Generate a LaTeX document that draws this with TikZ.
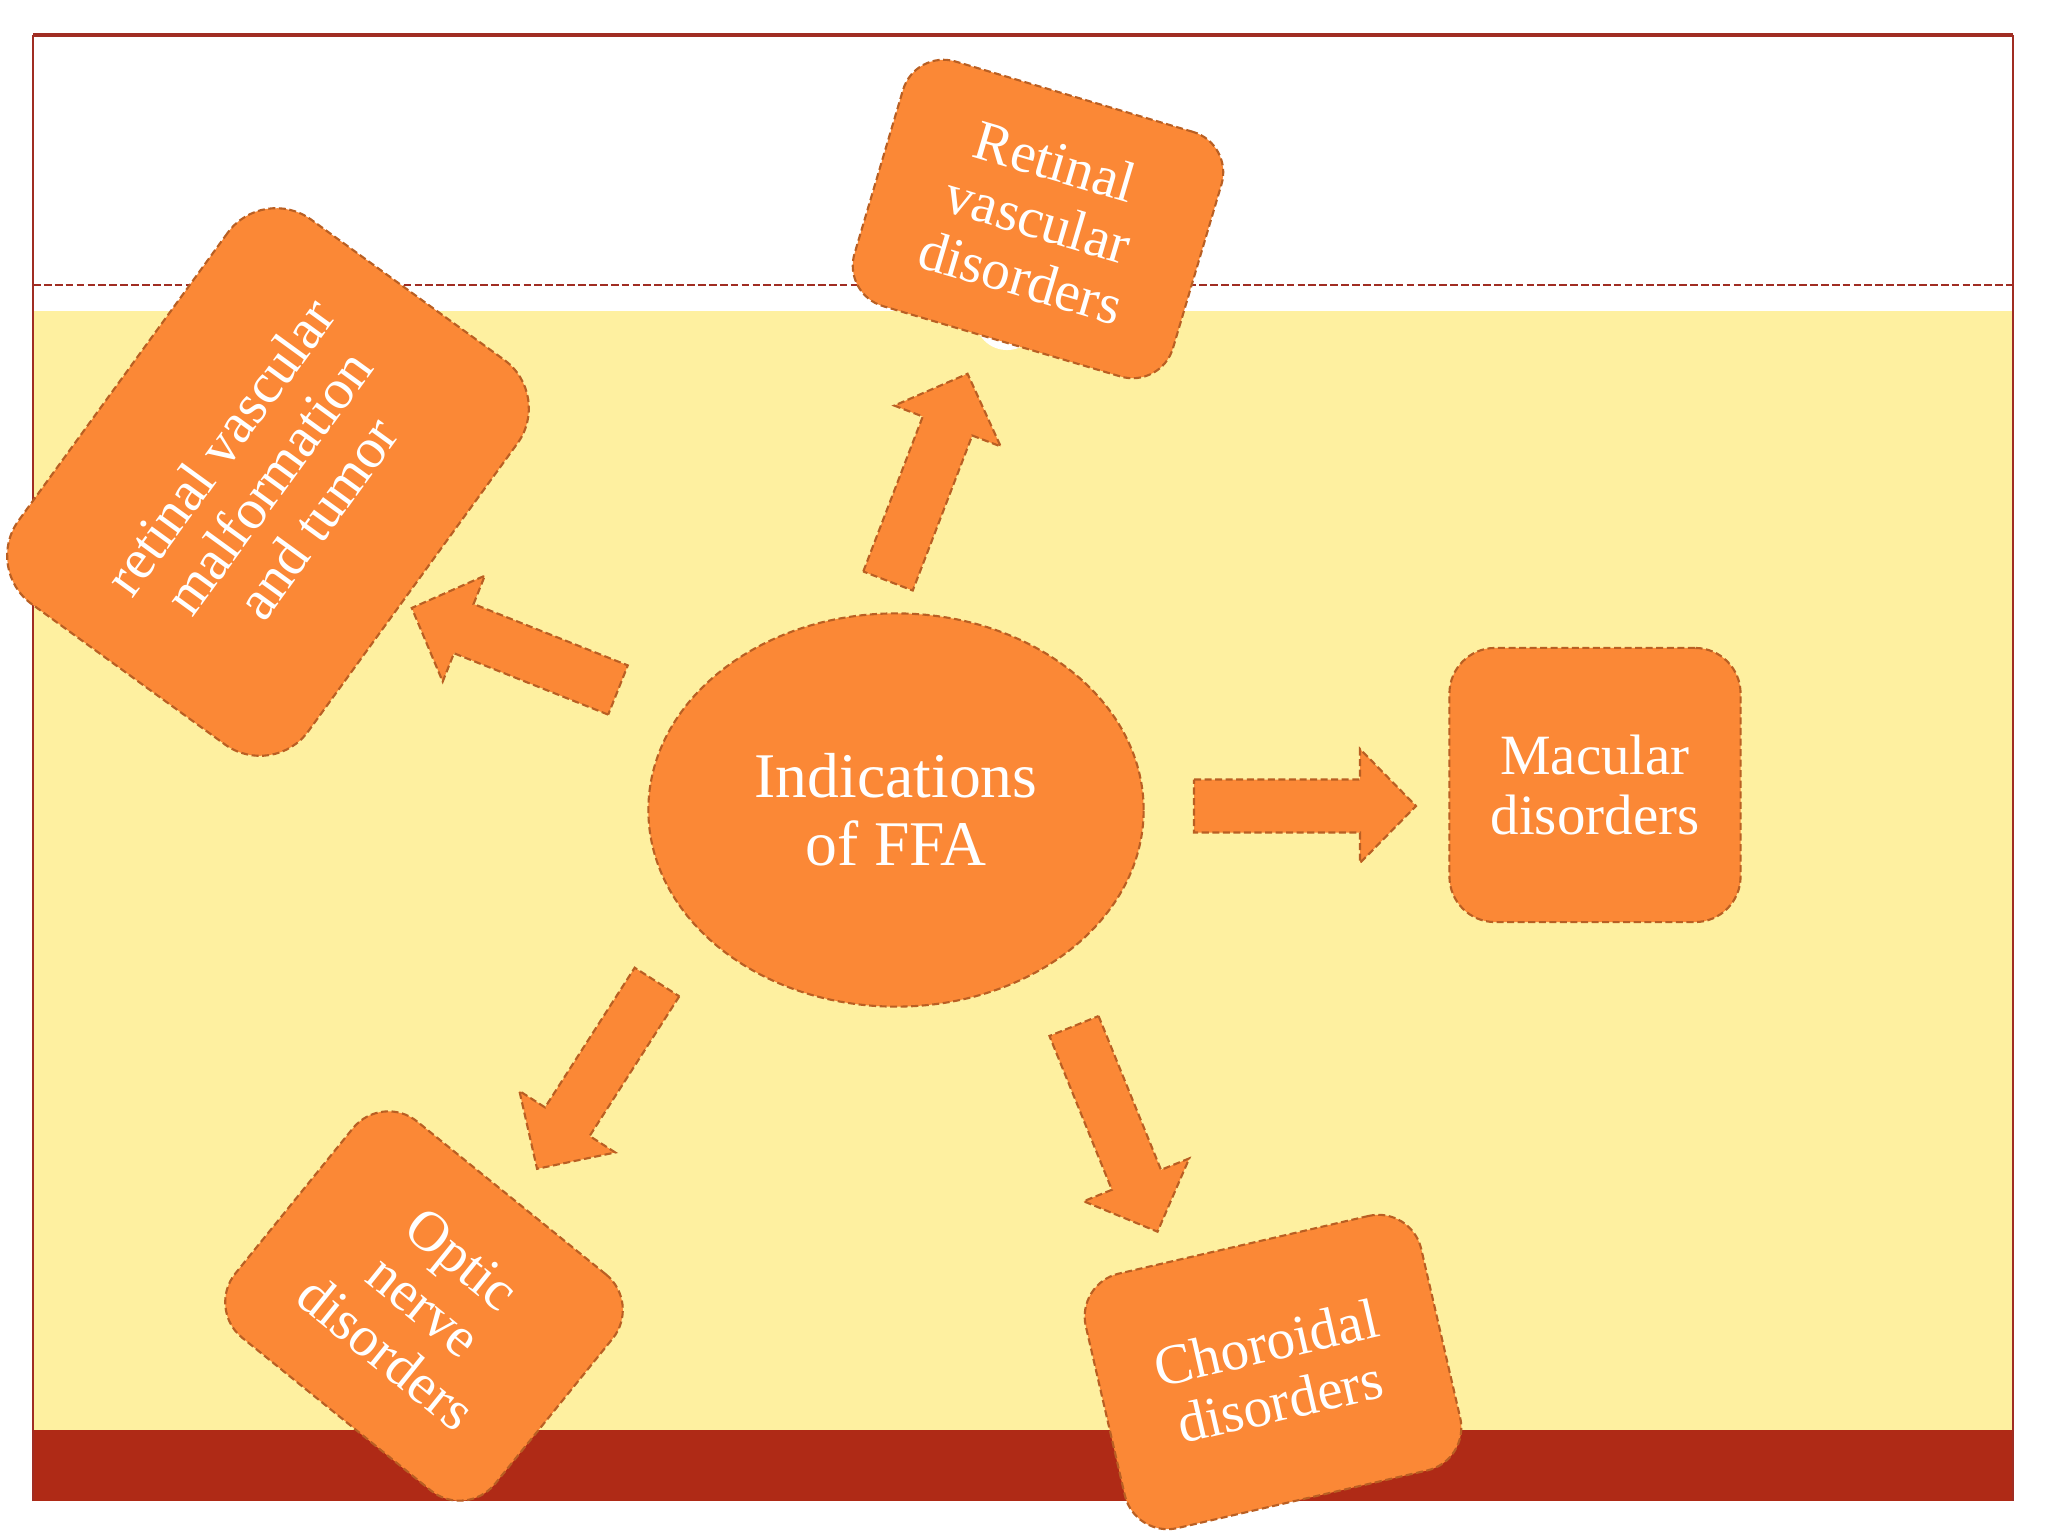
\documentclass[tikz,border=0pt]{standalone}
\usepackage{fontspec}
\setmainfont{Liberation Serif}
\usetikzlibrary{shapes.geometric}
\definecolor{boxorange}{RGB}{251,136,54}
\definecolor{dashbrown}{RGB}{185,95,35}
\definecolor{bgyellow}{RGB}{254,240,160}
\definecolor{bandred}{RGB}{175,42,22}
\definecolor{framered}{RGB}{160,45,35}
\begin{document}
\begin{tikzpicture}[x=0.01cm,y=-0.01cm,
  shapeline/.style={draw=dashbrown, line width=0.6pt, dash pattern=on 2pt off 1pt},
  orangebox/.style={shapeline, fill=boxorange, rectangle, text=white, align=center,
    inner sep=0pt, font=\fontsize{16.2}{17.2}\selectfont},
  blockarrow/.pic={\path[shapeline, fill=boxorange] (0,-26.5) -- (166,-26.5) -- (166,-57)
    -- (222,0) -- (166,57) -- (166,26.5) -- (0,26.5) -- cycle;}
]
\useasboundingbox (0,0) rectangle (2048,1536);
\fill[white] (0,0) rectangle (2048,1536);
% slide background
\fill[bgyellow] (33,311) rectangle (2013,1430);
\fill[bandred] (33,1430) rectangle (2013,1501);
\draw[framered, line width=0.6pt, dash pattern=on 2.2pt off 0.9pt] (33,285) -- (2013,285);
\draw[framered, line width=0.6pt] (33,1501) -- (33,35);
\draw[framered, line width=0.6pt] (2013,35) -- (2013,1501);
\draw[framered, line width=0.9pt] (33,35) -- (2013,35);
% white blob behind top box
\fill[white] (1007,318) ellipse [x radius=0.32cm, y radius=0.32cm];
% block arrows
\coordinate (tailUp) at (888,581);
\coordinate (tailLeft) at (618,690);
\coordinate (tailDL) at (657,982);
\coordinate (tailDR) at (1074,1026);
\coordinate (tailRight) at (1194,806);
\pic[rotate=69] at (tailUp) {blockarrow};
\pic[rotate=158.3] at (tailLeft) {blockarrow};
\pic[rotate=-122.7] at (tailDL) {blockarrow};
\pic[rotate=-67.9] at (tailDR) {blockarrow};
\pic at (tailRight) {blockarrow};
% nodes
\node[ellipse, shapeline, fill=boxorange, minimum width=4.95cm, minimum height=3.93cm,
  inner sep=0pt, text=white, align=center, font=\fontsize{18.1}{19.4}\selectfont]
  (center) at (896,810) {Indications\\of FFA};
\node[orangebox, minimum width=2.91cm, minimum height=2.74cm, rounded corners=13pt]
  (macular) at (1595,785) {Macular\\disorders};
\node[orangebox, rotate=-16.5, minimum width=3.32cm, minimum height=2.55cm, rounded corners=12pt]
  (retvasc) at (1038,219) {Retinal\\vascular\\disorders};
\node[orangebox, rotate=54, minimum width=4.75cm, minimum height=3.58cm, rounded corners=17pt]
  (malform) at (268,482) {retinal vascular\\malformation\\and tumor};
\node[orangebox, rotate=-39, minimum width=3.34cm, minimum height=2.78cm, rounded corners=13pt]
  (optic) at (424,1306) {Optic\\nerve\\disorders};
\node[orangebox, rotate=13, minimum width=3.44cm, minimum height=2.61cm, rounded corners=12.5pt]
  (choroid) at (1273,1372) {Choroidal\\disorders};
\end{tikzpicture}
\end{document}
